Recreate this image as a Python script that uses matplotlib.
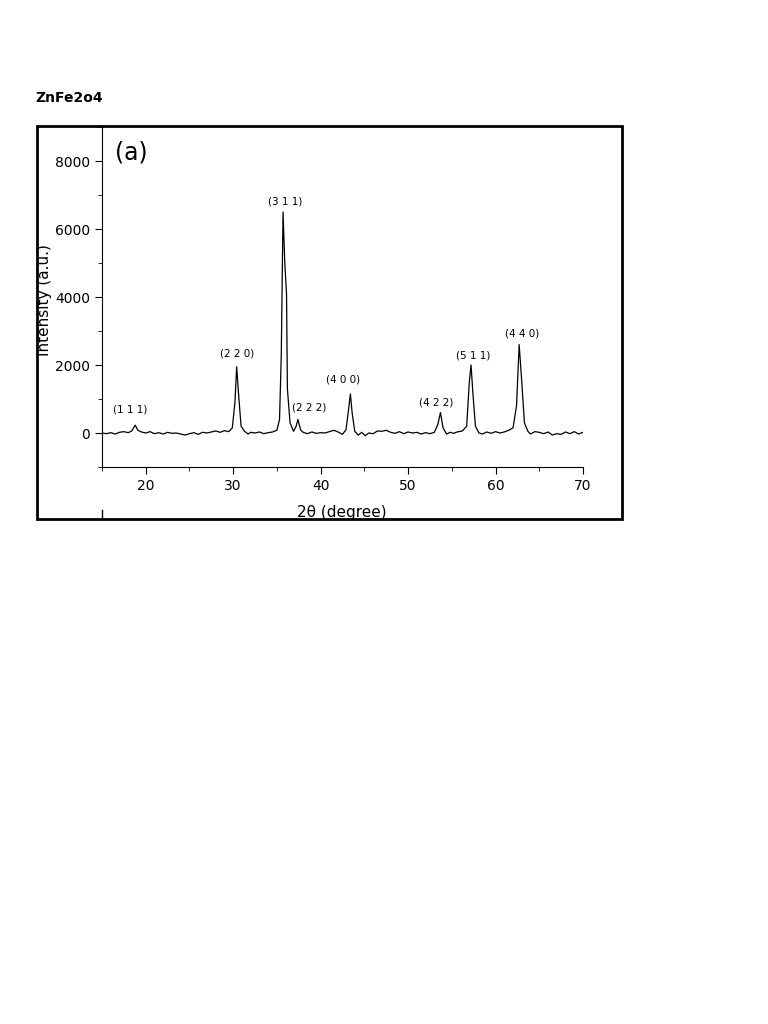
import matplotlib
matplotlib.use("Agg")
import matplotlib.pyplot as plt
from matplotlib.patches import Rectangle
from matplotlib.lines import Line2D
from matplotlib.ticker import MultipleLocator

two_theta = [15,15.5,16,16.5,17,17.5,18,18.4,18.8,19.1,19.5,20,20.5,21,21.5,22,22.5,23,23.5,24,24.5,25,25.5,26,26.5,27,27.5,28,28.5,29,29.5,29.9,30.2,30.4,30.6,30.9,31.3,31.7,32,32.5,33,33.5,34,34.5,35,35.3,35.5,35.7,35.9,36.1,36.2,36.5,36.9,37.2,37.4,37.7,38,38.5,39,39.5,40,40.5,41,41.5,42,42.5,42.9,43.2,43.4,43.6,43.9,44.3,44.7,45.1,45.5,46,46.5,47,47.5,48,48.5,49,49.5,50,50.5,51,51.5,52,52.5,53,53.4,53.7,54,54.4,54.8,55.2,55.6,56.2,56.7,57,57.2,57.4,57.7,58.1,58.5,59,59.5,60,60.5,61,61.5,62,62.4,62.7,63,63.3,63.7,64,64.5,65,65.5,66,66.5,67,67.5,68,68.5,69,69.5,70]
intensity = [0,-20,10,-30,20,40,10,60,230,80,30,0,40,-20,10,-30,20,-10,0,-30,-60,-20,10,-40,20,0,30,60,20,70,40,150,900,1950,1200,200,50,-30,20,0,30,-20,10,30,80,400,2300,6500,5000,4100,1300,300,50,200,400,100,20,-20,30,-10,10,0,40,80,30,-40,100,700,1150,600,50,-60,20,-80,0,-20,60,50,80,20,-10,40,-20,30,0,20,-30,10,-20,20,250,600,150,-30,20,-10,30,60,200,1500,2000,1200,200,0,-30,30,-10,40,0,30,80,150,800,2600,1500,300,50,-30,40,20,-20,30,-60,-20,-40,30,-20,40,-30,20]

peak_labels = ["(1 1 1)","(2 2 0)","(3 1 1)","(2 2 2)","(4 0 0)","(4 2 2)","(5 1 1)","(4 4 0)"]
label_x = [18.2,30.5,36.0,38.7,42.6,53.2,57.5,63.0]
label_y = [680,2350,6820,740,1560,910,2290,2940]

fig = plt.figure(figsize=(7.68,10.24), dpi=100)
fig.text(35/768, 1-98/1024, "ZnFe2o4", fontsize=10, fontweight="bold", va="center", ha="left")
fig.add_artist(Rectangle((37/768, 1-519/1024), 585/768, 393/1024, transform=fig.transFigure,
                         fill=False, edgecolor="black", linewidth=2))
fig.add_artist(Line2D([102/768,102/768],[1-510/1024,1-517/1024], transform=fig.transFigure, color="black", lw=1))

ax = fig.add_axes([102/768, 1-467/1024, 481/768, 341/1024])
ax.plot(two_theta, intensity, color="black", lw=0.9)
ax.set_xlim(15,70)
ax.set_ylim(-1000,9030)
ax.spines["top"].set_visible(False)
ax.spines["right"].set_visible(False)
ax.xaxis.set_major_locator(MultipleLocator(10))
ax.xaxis.set_minor_locator(MultipleLocator(5))
ax.yaxis.set_major_locator(MultipleLocator(2000))
ax.yaxis.set_minor_locator(MultipleLocator(1000))
ax.set_xticks([20,30,40,50,60,70])
ax.set_yticks([0,2000,4000,6000,8000])
ax.tick_params(which="both", direction="out", labelsize=10)
ax.tick_params(which="major", length=5)
ax.tick_params(which="minor", length=3)
for t, x, y in zip(peak_labels, label_x, label_y):
    ax.text(x, y, t, fontsize=7.5, ha="center", va="center")
ax.text(18.3, 8260, "(a)", fontsize=17, ha="center", va="center")
fig.text(45/768, 1-300/1024, "Intensity (a.u.)", rotation=90, fontsize=11, ha="center", va="center")
fig.text(342/768, 1-512/1024, "2θ (degree)", fontsize=11, ha="center", va="center")
fig.savefig("out.png", dpi=100)
